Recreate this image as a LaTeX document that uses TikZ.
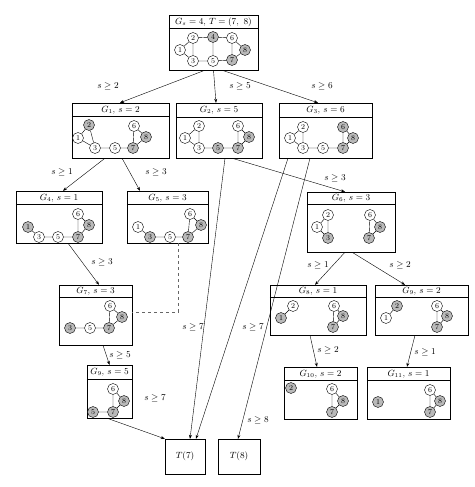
\documentclass[tikz,border=0pt]{standalone}
\usepackage{tikz}
\usetikzlibrary{arrows.meta}

\begin{document}
\begin{tikzpicture}[x=1pt, y=-1pt,
        v/.style={circle, draw, fill=white, minimum size=11pt, inner sep=0pt, font=\fontsize{7.5}{7.5}\selectfont},
        vg/.style={v, fill=gray!55},
        box/.style={draw, inner sep=0pt},
        hd/.style={font=\fontsize{9}{10}\selectfont, inner sep=0pt},
        sep/.style={line width=1.2pt},
        lab/.style={font=\fontsize{9}{10}\selectfont, inner sep=1pt},
        arr/.style={-{Stealth[length=4pt, width=3pt]}}]
    \useasboundingbox (0,0) rectangle (474,487);
    % boxes
    \node[box, minimum width=89pt, minimum height=55pt] (gs) at (213.5,42.5) {};
    \node[box, minimum width=97pt, minimum height=55pt] (g1) at (120.5,130.5) {};
    \node[box, minimum width=86pt, minimum height=55pt] (g2) at (219,130.5) {};
    \node[box, minimum width=93pt, minimum height=55pt] (g3) at (325.5,130.5) {};
    \node[box, minimum width=86pt, minimum height=52pt] (g4) at (59,217) {};
    \node[box, minimum width=81pt, minimum height=52pt] (g5) at (167.5,217) {};
    \node[box, minimum width=88pt, minimum height=60pt] (g6) at (351,222) {};
    \node[box, minimum width=73pt, minimum height=60pt] (g7) at (95.5,315) {};
    \node[box, minimum width=96pt, minimum height=50pt] (g8) at (318,310) {};
    \node[box, minimum width=93pt, minimum height=50pt] (g9) at (421.5,310) {};
    \node[box, minimum width=45pt, minimum height=53pt] (g12) at (109.5,391.5) {};
    \node[box, minimum width=73pt, minimum height=52pt] (g10) at (320.5,393) {};
    \node[box, minimum width=83pt, minimum height=52pt] (g11) at (408.5,393) {};
    \node[box, minimum width=40pt, minimum height=35pt, font=\fontsize{9}{10}\selectfont] (t7) at (185,456.5) {$T(7)$};
    \node[box, minimum width=42pt, minimum height=35pt, font=\fontsize{9}{10}\selectfont] (t8) at (239,456.5) {$T(8)$};
    % headers
    \node[hd] (gsh) at ([yshift=-7pt]gs.north) {$G_s = 4$, $T = (7,\ 8)$};
    \node[hd] (g1h) at ([yshift=-7pt]g1.north) {$G_1$, $s = 2$};
    \node[hd] (g2h) at ([yshift=-7pt]g2.north) {$G_2$, $s = 5$};
    \node[hd] (g3h) at ([yshift=-7pt]g3.north) {$G_3$, $s = 6$};
    \node[hd] (g4h) at ([yshift=-7pt]g4.north) {$G_4$, $s = 1$};
    \node[hd] (g5h) at ([yshift=-7pt]g5.north) {$G_5$, $s = 3$};
    \node[hd] (g6h) at ([yshift=-6.5pt]g6.north) {$G_6$, $s = 3$};
    \node[hd] (g7h) at ([yshift=-6.5pt]g7.north) {$G_7$, $s = 3$};
    \node[hd] (g8h) at ([yshift=-6.5pt]g8.north) {$G_8$, $s = 1$};
    \node[hd] (g9h) at ([yshift=-6.5pt]g9.north) {$G_9$, $s = 2$};
    \node[hd] (g12h) at ([yshift=-7.5pt]g12.north) {$G_9$, $s = 5$};
    \node[hd] (g10h) at ([yshift=-7pt]g10.north) {$G_{10}$, $s = 2$};
    \node[hd] (g11h) at ([yshift=-7pt]g11.north) {$G_{11}$, $s = 1$};
    \foreach \b/\d in {gs/14, g1/14, g2/15, g3/15, g4/14, g5/14, g6/13, g7/13, g8/13, g9/13, g12/15, g10/14, g11/14}
        \draw[sep] ([yshift=-\d pt]\b.north west) -- ([yshift=-\d pt]\b.north east);
    % G_s
    \node[v] (s1) at (180,50) {1};
    \node[v] (s2) at (193,38) {2};
    \node[v] (s3) at (193,61) {3};
    \node[vg] (s4) at (213,37) {4};
    \node[v] (s5) at (213,61) {5};
    \node[v] (s6) at (232,38) {6};
    \node[vg] (s7) at (232,60) {7};
    \node[vg] (s8) at (245,50) {8};
    \draw (s1) -- (s2) -- (s4) -- (s6) -- (s8) -- (s7) -- (s5) -- (s3) -- (s1)
        (s2) -- (s3) (s4) -- (s5) (s6) -- (s7);
    % G_1
    \node[v] (a1) at (78,138) {1};
    \node[vg] (a2) at (89,125) {2};
    \node[v] (a3) at (95,148) {3};
    \node[v] (a5) at (115,148) {5};
    \node[v] (a6) at (134,126) {6};
    \node[vg] (a7) at (133,148) {7};
    \node[vg] (a8) at (146,137) {8};
    \draw (a1) -- (a2) -- (a3) -- (a1) (a3) -- (a5) -- (a7) -- (a6) -- (a8) -- (a7);
    % G_2
    \node[v] (b1) at (185,138) {1};
    \node[v] (b2) at (199,126) {2};
    \node[v] (b3) at (199,148) {3};
    \node[vg] (b5) at (218,148) {5};
    \node[v] (b6) at (238,126) {6};
    \node[vg] (b7) at (238,148) {7};
    \node[vg] (b8) at (249,137) {8};
    \draw (b1) -- (b2) -- (b3) -- (b1) (b3) -- (b5) -- (b7) -- (b6) -- (b8) -- (b7);
    % G_3
    \node[v] (c1) at (290,138) {1};
    \node[v] (c2) at (303,127) {2};
    \node[v] (c3) at (303,148) {3};
    \node[v] (c5) at (323,148) {5};
    \node[vg] (c6) at (343,127) {6};
    \node[vg] (c7) at (343,148) {7};
    \node[vg] (c8) at (353,138) {8};
    \draw (c1) -- (c2) -- (c3) -- (c1) (c3) -- (c5) -- (c7) -- (c6) -- (c8) -- (c7);
    % G_4
    \node[vg] (d1) at (28,227) {1};
    \node[v] (d3) at (39,237) {3};
    \node[v] (d5) at (58,237) {5};
    \node[v] (d6) at (78,214) {6};
    \node[vg] (d7) at (78,237) {7};
    \node[vg] (d8) at (89,225) {8};
    \draw (d1) -- (d3) -- (d5) -- (d7) -- (d6) -- (d8) -- (d7);
    % G_5
    \node[v] (e1) at (138,227) {1};
    \node[vg] (e3) at (150,237) {3};
    \node[v] (e5) at (170,237) {5};
    \node[v] (e6) at (190,214) {6};
    \node[vg] (e7) at (188,237) {7};
    \node[vg] (e8) at (201,225) {8};
    \draw (e1) -- (e3) -- (e5) -- (e7) -- (e6) -- (e8) -- (e7);
    % G_6
    \node[v] (f1) at (317,227) {1};
    \node[v] (f2) at (328,215) {2};
    \node[vg] (f3) at (328,238) {3};
    \node[v] (f6) at (370,215) {6};
    \node[vg] (f7) at (369,238) {7};
    \node[vg] (f8) at (380,227) {8};
    \draw (f1) -- (f2) -- (f3) -- (f1) (f7) -- (f6) -- (f8) -- (f7);
    % G_7
    \node[vg] (h3) at (70,328) {3};
    \node[v] (h5) at (90,328) {5};
    \node[v] (h6) at (110,306) {6};
    \node[vg] (h7) at (109,328) {7};
    \node[vg] (h8) at (122,317) {8};
    \draw (h3) -- (h5) -- (h7) -- (h6) -- (h8) -- (h7);
    % G_9, s = 5
    \node[vg] (i5) at (93,412) {5};
    \node[v] (i6) at (113,389) {6};
    \node[vg] (i7) at (113,412) {7};
    \node[vg] (i8) at (124,401) {8};
    \draw (i5) -- (i7) -- (i6) -- (i8) -- (i7);
    % G_8
    \node[vg] (j1) at (281,318) {1};
    \node[v] (j2) at (293,306) {2};
    \node[v] (j6) at (334,306) {6};
    \node[vg] (j7) at (333,327) {7};
    \node[vg] (j8) at (343,316) {8};
    \draw (j1) -- (j2) (j7) -- (j6) -- (j8) -- (j7);
    % G_9, s = 2
    \node[v] (k1) at (386,318) {1};
    \node[vg] (k2) at (397,306) {2};
    \node[v] (k6) at (437,306) {6};
    \node[vg] (k7) at (437,327) {7};
    \node[vg] (k8) at (447,316) {8};
    \draw (k1) -- (k2) (k7) -- (k6) -- (k8) -- (k7);
    % G_10
    \node[vg] (l2) at (291,388) {2};
    \node[v] (l6) at (332,389) {6};
    \node[vg] (l7) at (332,412) {7};
    \node[vg] (l8) at (343,401) {8};
    \draw (l7) -- (l6) -- (l8) -- (l7);
    % G_11
    \node[vg] (m1) at (378,402) {1};
    \node[v] (m6) at (430,390) {6};
    \node[vg] (m7) at (430,412) {7};
    \node[vg] (m8) at (440,401) {8};
    \draw (m7) -- (m6) -- (m8) -- (m7);
    % branches
    \draw[arr] ([xshift=-8.5pt]gs.south) -- ([xshift=-0.5pt]g1.north);
    \draw[arr] (gs.south) -- ([xshift=-3pt]g2.north);
    \draw[arr] ([xshift=8.5pt]gs.south) -- ([xshift=-7.5pt]g3.north);
    \draw[arr] ([xshift=-15.5pt]g1.south) -- ([xshift=4pt]g4.north);
    \draw[arr] ([xshift=1.5pt]g1.south) -- ([xshift=-27.5pt]g5.north);
    \draw[arr] ([xshift=13pt]g2.south) -- ([xshift=-6pt]g6.north);
    \draw[arr] ([xshift=6pt]g2.south) -- ([xshift=5pt]t7.north);
    \draw[arr] ([xshift=-37.5pt]g3.south) -- ([xshift=11pt]t7.north);
    \draw[arr] ([xshift=-15.5pt]g3.south) -- ([xshift=-1pt]t8.north);
    \draw[arr] ([xshift=9pt]g4.south) -- ([xshift=3.5pt]g7.north);
    \draw[dashed, gray!80!black] ([xshift=10.5pt]g5.south) |- ([yshift=3pt]g7.east);
    \draw[arr] ([xshift=7.5pt]g7.south) -- (g12.north);
    \draw[arr] ([xshift=-2.5pt]g12.south) -- (t7.north west);
    \draw[arr] ([xshift=-6pt]g6.south) -- ([xshift=-3pt]g8.north);
    \draw[arr] ([xshift=1pt]g6.south) -- ([xshift=-16.5pt]g9.north);
    \draw[arr] ([xshift=-8pt]g8.south) -- ([xshift=-3.5pt]g10.north);
    \draw[arr] ([xshift=-6.5pt]g9.south) -- ([xshift=-1.5pt]g11.north);
    % labels
    \node[lab] (l-1) at (108,86) {$s \geq 2$};
    \node[lab] (l-2) at (240,86) {$s \geq 5$};
    \node[lab] (l-3) at (322,86) {$s \geq 6$};
    \node[lab] (l-4) at (62,172) {$s \geq 1$};
    \node[lab] (l-5) at (156,172) {$s \geq 3$};
    \node[lab] (l-6) at (335,178) {$s \geq 3$};
    \node[lab] (l-7) at (102,262) {$s \geq 3$};
    \node[lab] (l-8) at (318,265) {$s \geq 1$};
    \node[lab] (l-9) at (400,265) {$s \geq 2$};
    \node[lab] (l-10) at (193,327) {$s \geq 7$};
    \node[lab] (l-11) at (253,327) {$s \geq 7$};
    \node[lab] (l-12) at (120,355) {$s \geq 5$};
    \node[lab] (l-13) at (328,350) {$s \geq 2$};
    \node[lab] (l-14) at (425,352) {$s \geq 1$};
    \node[lab] (l-15) at (155,398) {$s \geq 7$};
    \node[lab] (l-16) at (258,420) {$s \geq 8$};
\end{tikzpicture}
\end{document}
